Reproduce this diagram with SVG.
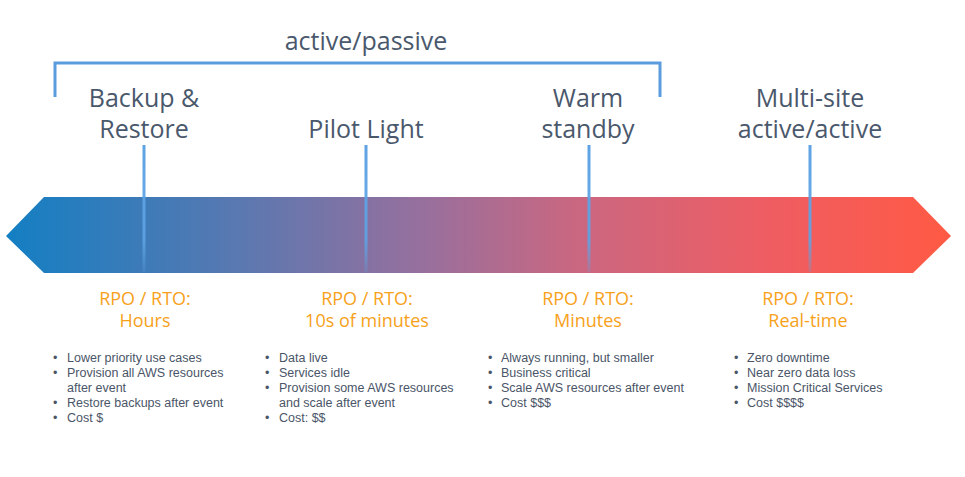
<svg xmlns="http://www.w3.org/2000/svg" width="965" height="477" viewBox="0 0 965 477">
<defs>
<linearGradient id="band" x1="6" y1="0" x2="951" y2="0" gradientUnits="userSpaceOnUse">
<stop offset="0" stop-color="#137fc3"/>
<stop offset="0.25" stop-color="#5b78b0"/>
<stop offset="0.45" stop-color="#9a6f9c"/>
<stop offset="0.6" stop-color="#c96781"/>
<stop offset="0.8" stop-color="#ee5d63"/>
<stop offset="1" stop-color="#ff5a44"/>
</linearGradient>
<linearGradient id="tick" x1="0" y1="145" x2="0" y2="272" gradientUnits="userSpaceOnUse">
<stop offset="0" stop-color="#5ea3e4"/>
<stop offset="0.75" stop-color="#5ea3e4" stop-opacity="0.9"/>
<stop offset="1" stop-color="#5ea3e4" stop-opacity="0.2"/>
</linearGradient>
</defs>
<style>
.title{font-family:"Open Sans","Liberation Sans",sans-serif;font-size:25px;fill:#4a586c;text-anchor:middle}
.rpo{font-family:"Open Sans","Liberation Sans",sans-serif;font-size:18px;fill:#f7a11a;text-anchor:middle}
.bul{font-family:"Liberation Sans",Arial,sans-serif;font-size:12.5px;fill:#4a5568}
.tick{stroke:url(#tick);stroke-width:3;fill:none}
.bracket{stroke:#5b9cdc;stroke-width:3;fill:none}
</style>
<rect width="965" height="477" fill="#ffffff"/>
<g id="band-arrow">
<polygon points="6,236 44,197 913,197 951,236 913,273 44,273" fill="url(#band)"/>
</g>
<g id="connectors">
<polyline class="bracket" points="55,97 55,63 660,63 660,97"/>
<line class="tick" x1="144" y1="145" x2="144" y2="272"/>
<line class="tick" x1="366" y1="145" x2="366" y2="272"/>
<line class="tick" x1="589" y1="145" x2="589" y2="272"/>
<line class="tick" x1="810" y1="145" x2="810" y2="272"/>
</g>
<g id="active-passive">
<text class="title" x="366" y="50">active/passive</text>
</g>
<g id="backup-restore">
<text class="title" x="144" y="107">Backup &amp;</text>
<text class="title" x="144" y="138">Restore</text>
<text class="rpo" x="145" y="305">RPO / RTO:</text>
<text class="rpo" x="145" y="327">Hours</text>
<g class="bul">
<text x="53" y="362">•</text><text x="67" y="362">Lower priority use cases</text>
<text x="53" y="377">•</text><text x="67" y="377">Provision all AWS resources</text>
<text x="67" y="392">after event</text>
<text x="53" y="407">•</text><text x="67" y="407">Restore backups after event</text>
<text x="53" y="422">•</text><text x="67" y="422">Cost $</text>
</g>
</g>
<g id="pilot-light">
<text class="title" x="366" y="138">Pilot Light</text>
<text class="rpo" x="367" y="305">RPO / RTO:</text>
<text class="rpo" x="367" y="327">10s of minutes</text>
<g class="bul">
<text x="265" y="362">•</text><text x="279" y="362">Data live</text>
<text x="265" y="377">•</text><text x="279" y="377">Services idle</text>
<text x="265" y="392">•</text><text x="279" y="392">Provision some AWS resources</text>
<text x="279" y="407">and scale after event</text>
<text x="265" y="422">•</text><text x="279" y="422">Cost: $$</text>
</g>
</g>
<g id="warm-standby">
<text class="title" x="588" y="107">Warm</text>
<text class="title" x="588" y="138">standby</text>
<text class="rpo" x="588" y="305">RPO / RTO:</text>
<text class="rpo" x="588" y="327">Minutes</text>
<g class="bul">
<text x="488" y="362">•</text><text x="501" y="362">Always running, but smaller</text>
<text x="488" y="377">•</text><text x="501" y="377">Business critical</text>
<text x="488" y="392">•</text><text x="501" y="392">Scale AWS resources after event</text>
<text x="488" y="407">•</text><text x="501" y="407">Cost $$$</text>
</g>
</g>
<g id="multi-site">
<text class="title" x="810" y="107">Multi-site</text>
<text class="title" x="810" y="138">active/active</text>
<text class="rpo" x="808" y="305">RPO / RTO:</text>
<text class="rpo" x="808" y="327">Real-time</text>
<g class="bul">
<text x="734" y="362">•</text><text x="747" y="362">Zero downtime</text>
<text x="734" y="377">•</text><text x="747" y="377">Near zero data loss</text>
<text x="734" y="392">•</text><text x="747" y="392">Mission Critical Services</text>
<text x="734" y="407">•</text><text x="747" y="407">Cost $$$$</text>
</g>
</g>
</svg>
